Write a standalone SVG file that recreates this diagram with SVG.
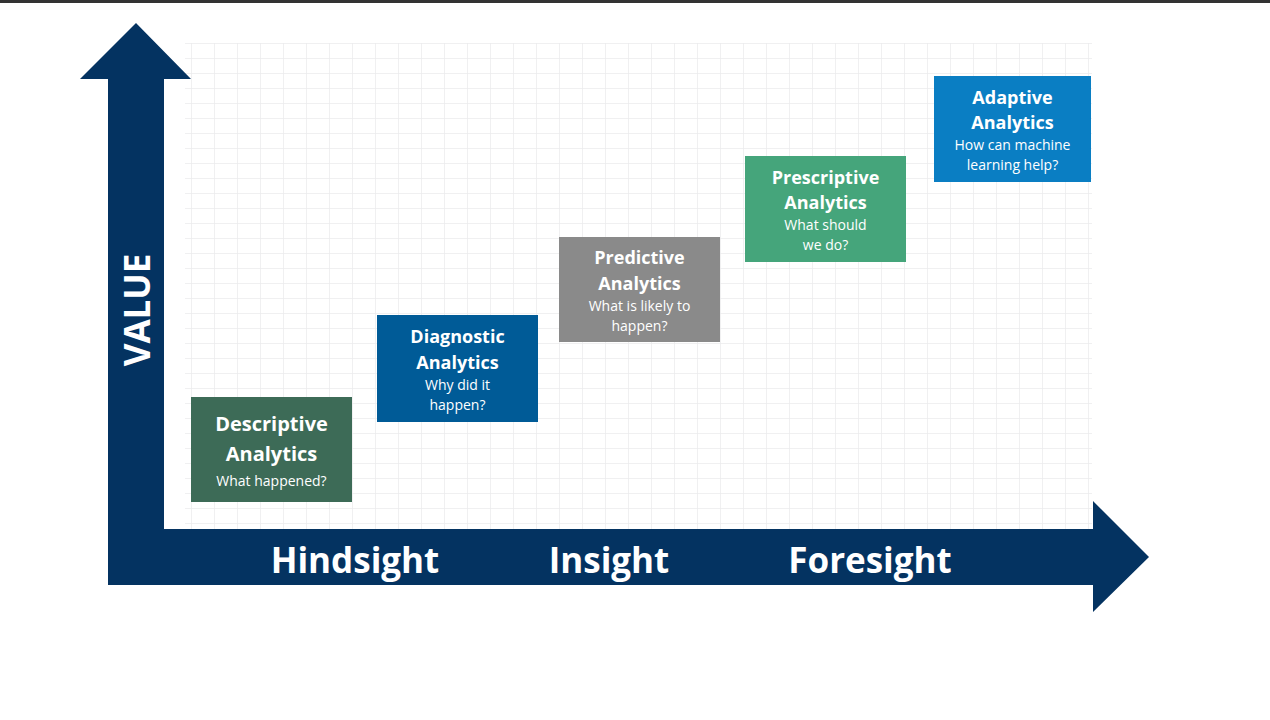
<svg xmlns="http://www.w3.org/2000/svg" width="1270" height="720" viewBox="0 0 1270 720">
<defs>
<pattern id="grid" x="191" y="43" width="23" height="15" patternUnits="userSpaceOnUse">
<path d="M0 0V15M0 0H23" fill="none" stroke="#ebebed" stroke-width="1.5"/>
</pattern>
<style>
.t{font-family:"Open Sans",sans-serif;font-weight:700;fill:#fff;text-anchor:middle}
.s{font-family:"Open Sans",sans-serif;fill:#fff;text-anchor:middle;font-size:14px}
.ax{font-family:"Open Sans",sans-serif;font-weight:700;fill:#fff;text-anchor:middle;font-size:35px}
</style>
</defs>
<rect width="1270" height="720" fill="#fff"/>
<rect width="1270" height="3" fill="#333"/>
<rect x="185" y="43" width="907" height="486" fill="url(#grid)"/>
<g id="axes">
<polygon points="136,23 191,79 164,79 164,585 108,585 108,79 80,79" fill="#043361"/>
<polygon points="108,529 1093,529 1093,501 1149,557 1093,612 1093,585 108,585" fill="#043361"/>
<text class="ax" transform="translate(150,310) rotate(-90)">VALUE</text>
<text class="ax" x="355" y="573">Hindsight</text>
<text class="ax" x="609" y="573">Insight</text>
<text class="ax" x="870" y="573">Foresight</text>
</g>
<g id="descriptive"><rect x="191" y="397" width="161" height="105" fill="#3d6b57"/>
<text class="t" x="271.5" y="431" font-size="20">Descriptive</text><text class="t" x="271.5" y="461" font-size="20">Analytics</text><text class="s" x="271.5" y="486" font-size="15">What happened?</text></g>
<g id="diagnostic"><rect x="377" y="315" width="161" height="107" fill="#005b97"/>
<text class="t" x="457.5" y="343" font-size="18">Diagnostic</text><text class="t" x="457.5" y="369" font-size="18">Analytics</text><text class="s" x="457.5" y="390">Why did it</text><text class="s" x="457.5" y="410">happen?</text></g>
<g id="predictive"><rect x="559" y="237" width="161" height="105" fill="#8a8a8a"/>
<text class="t" x="639.5" y="264" font-size="18">Predictive</text><text class="t" x="639.5" y="290" font-size="18">Analytics</text><text class="s" x="639.5" y="311">What is likely to</text><text class="s" x="639.5" y="331">happen?</text></g>
<g id="prescriptive"><rect x="745" y="156" width="161" height="106" fill="#45a57b"/>
<text class="t" x="825.5" y="184" font-size="18">Prescriptive</text><text class="t" x="825.5" y="209" font-size="18">Analytics</text><text class="s" x="825.5" y="230">What should</text><text class="s" x="825.5" y="250">we do?</text></g>
<g id="adaptive"><rect x="934" y="76" width="157" height="106" fill="#0a7ec3"/>
<text class="t" x="1012.5" y="104" font-size="18">Adaptive</text><text class="t" x="1012.5" y="129" font-size="18">Analytics</text><text class="s" x="1012.5" y="150">How can machine</text><text class="s" x="1012.5" y="170">learning help?</text></g>
</svg>
